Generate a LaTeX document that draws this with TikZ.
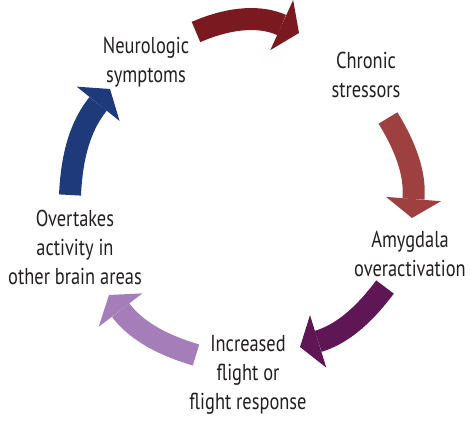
\documentclass[tikz,border=0pt]{standalone}
\usepackage{fontspec}
\setmainfont[FakeStretch=0.8]{PT Sans}
\usetikzlibrary{arrows.meta}
\definecolor{maroon}{RGB}{122,26,32}
\definecolor{brickred}{RGB}{158,64,64}
\definecolor{plum}{RGB}{94,22,84}
\definecolor{lavender}{RGB}{165,125,185}
\definecolor{navy}{RGB}{30,58,122}
\definecolor{ink}{RGB}{35,31,32}
\tikzset{
  cycarrow/.style={line width=22pt,
    -{Triangle[width=55pt,length=19pt,line width=0pt]}},
  label/.style={align=center,inner sep=0pt,text=ink,
    font=\fontsize{23}{29}\selectfont}
}
\begin{document}
\begin{tikzpicture}[x=1pt,y=1pt]
 \useasboundingbox (0,0) rectangle (470,423);
 \node[label] (symptoms) at (146,361) {Neurologic\\symptoms};
 \node[label] (stressors) at (366,348) {Chronic\\stressors};
 \node[label] (amygdala) at (410,169) {Amygdala\\overactivation};
 \node[label] (response) at (248,48) {Increased\\flight or\\flight response};
 \node[label] (areas) at (75,176) {Overtakes\\activity in\\other brain areas};
 \coordinate (t1) at (196,391); \coordinate (h1) at (299,390);
 \coordinate (t2) at (388,305); \coordinate (h2) at (412,205);
 \coordinate (t3) at (385,136); \coordinate (h3) at (300,76);
 \coordinate (t4) at (196,68);  \coordinate (h4) at (109,128);
 \coordinate (t5) at (70,228);  \coordinate (h5) at (110,334);
 \draw[cycarrow,maroon] (t1) to[bend left=24] (h1);
 \draw[cycarrow,brickred] (t2) to[bend left=18] (h2);
 \draw[cycarrow,plum] (t3) to[bend left=18] (h3);
 \draw[cycarrow,lavender] (t4) to[bend left=18] (h4);
 \draw[cycarrow,navy] (t5) to[bend left=18] (h5);
\end{tikzpicture}
\end{document}
